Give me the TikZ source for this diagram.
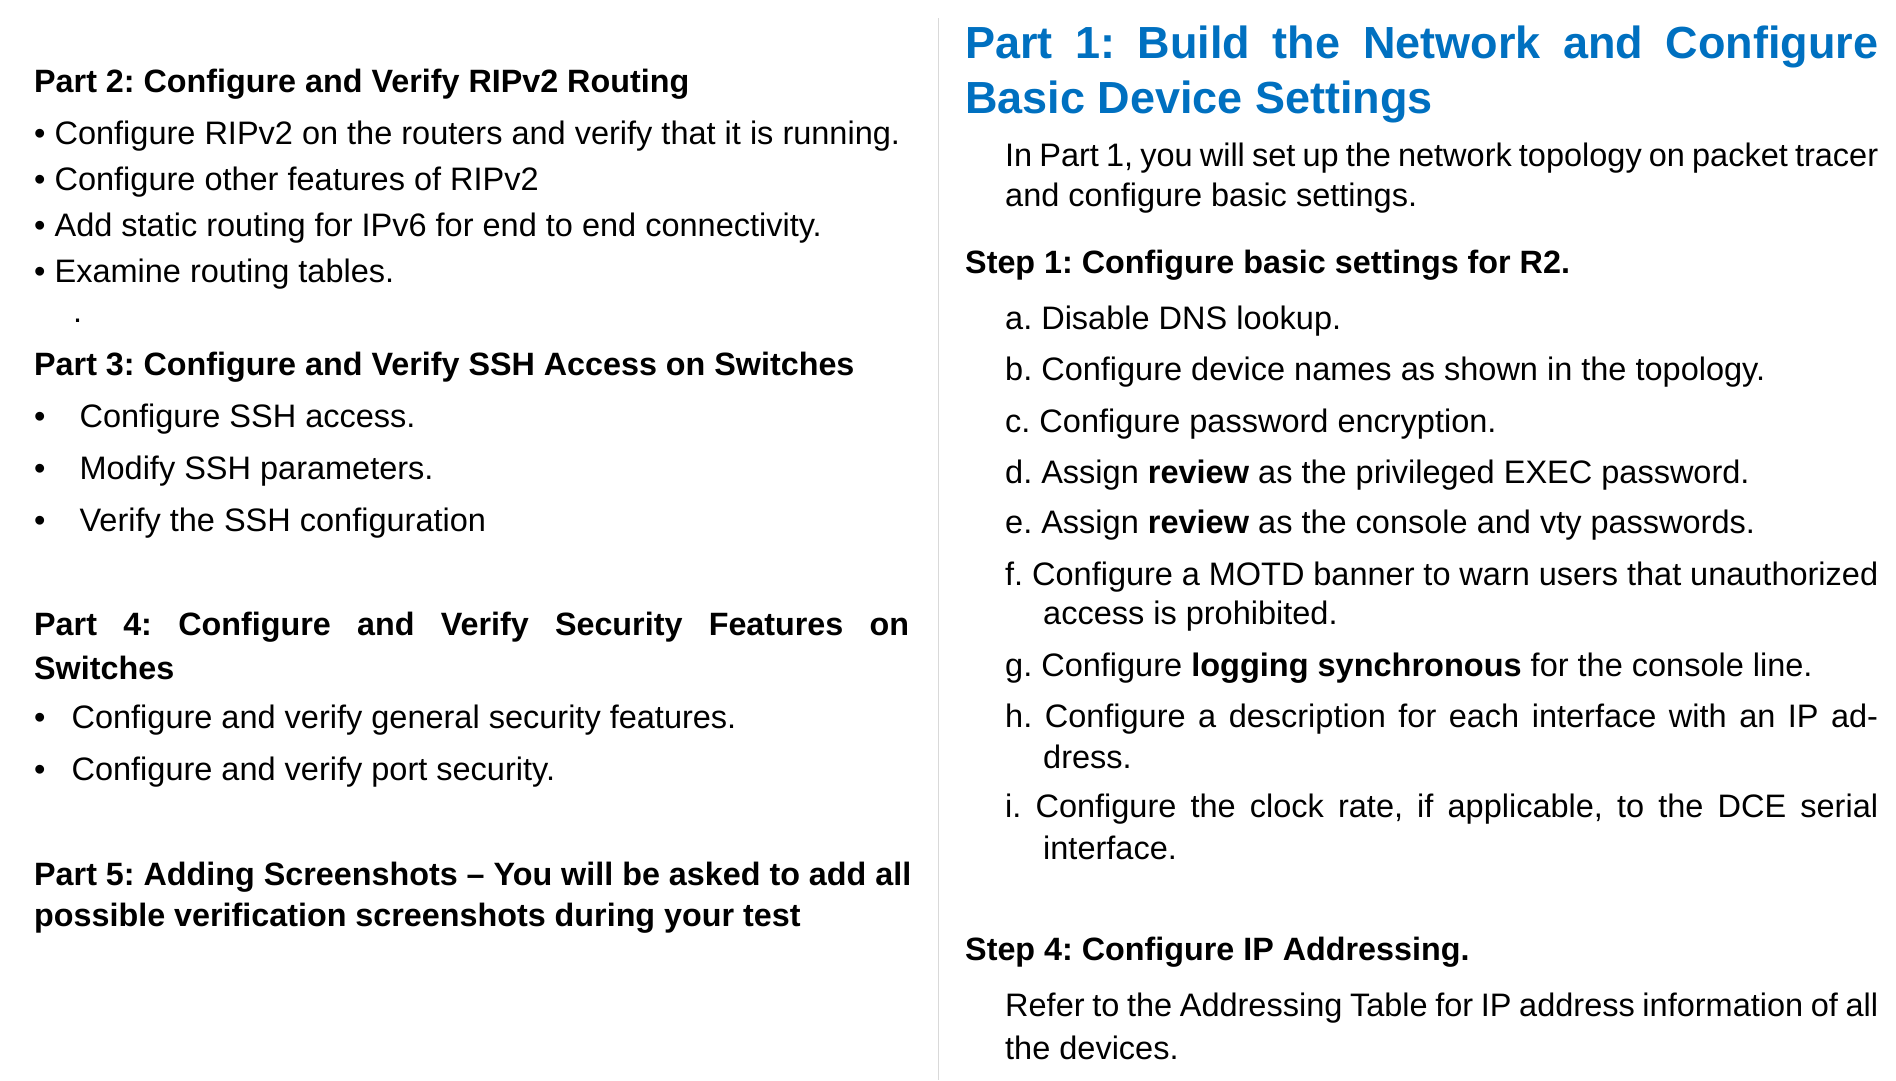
\documentclass[tikz,border=0pt]{standalone}
\usepackage{fontspec}
\setmainfont{Liberation Sans}
\definecolor{titleblue}{RGB}{0,112,192}
\begin{document}
\frenchspacing
\begin{tikzpicture}[x=1pt,y=-1pt,
  t/.style={anchor=west,inner sep=0pt,font=\fontsize{32.5}{39}\selectfont},
  h/.style={anchor=west,inner sep=0pt,font=\fontsize{32.3}{39}\selectfont\bfseries},
  ti/.style={anchor=west,inner sep=0pt,font=\fontsize{45}{54}\selectfont\bfseries,text=titleblue}]
\useasboundingbox (0,-3) rectangle (1896,1077);
\draw[gray!30,line width=1pt] (938,15) -- (938,1077);
% left
\node[h] (p2) at (34,81) {Part 2: Configure and Verify RIPv2 Routing};
\node[t] (b1) at (34,133) {• Configure RIPv2 on the routers and verify that it is running.};
\node[t] (b2) at (34,179) {• Configure other features of RIPv2};
\node[t] (b3) at (34,225) {• Add static routing for IPv6 for end to end connectivity.};
\node[t] (b4) at (34,271) {• Examine routing tables.};
\node[t] (dot) at (73,318) {.};
\node[h] (p3) at (34,364) {Part 3: Configure and Verify SSH Access on Switches};
\node[t] (s1) at (34,416) {•\hspace{34pt}Configure SSH access.};
\node[t] (s2) at (34,468) {•\hspace{34pt}Modify SSH parameters.};
\node[t] (s3) at (34,520) {•\hspace{34pt}Verify the SSH configuration};
\node[h] (p4a) at (34,624) {\hbox to 875pt{Part\hfill 4:\hfill Configure\hfill and\hfill Verify\hfill Security\hfill Features\hfill on}};
\node[h] (p4b) at (34,665) {Switches};
\node[t] (f1) at (34,717) {•\hspace{26pt}Configure and verify general security features.};
\node[t] (f2) at (34,769) {•\hspace{26pt}Configure and verify port security.};
\node[h] (p5a) at (34,874) {Part 5: Adding Screenshots – You will be asked to add all};
\node[h] (p5b) at (34,915) {possible verification screenshots during your test};
% right
\node[ti] (t1) at (965,44) {\hbox to 913pt{Part\hfill 1:\hfill Build\hfill the\hfill Network\hfill and\hfill Configure}};
\node[ti] (t2) at (965,99) {Basic Device Settings};
\node[t] (i1) at (1005,155) {\spaceskip=0.18em plus 1fil\hbox to 873pt{In Part 1, you will set up the network topology on packet tracer}};
\node[t] (i2) at (1005,195) {and configure basic settings.};
\node[h] (st1) at (965,262) {Step 1: Configure basic settings for R2.};
\node[t] (a) at (1005,318) {a. Disable DNS lookup.};
\node[t] (b) at (1005,369) {b. Configure device names as shown in the topology.};
\node[t] (c) at (1005,421) {c. Configure password encryption.};
\node[t] (d) at (1005,472) {d. Assign \textbf{review} as the privileged EXEC password.};
\node[t] (e) at (1005,522) {e. Assign \textbf{review} as the console and vty passwords.};
\node[t] (f) at (1005,574) {\hbox to 873pt{f.\hfill Configure\hfill a\hfill MOTD\hfill banner\hfill to\hfill warn\hfill users\hfill that\hfill unauthorized}};
\node[t] (f2r) at (1043,613) {access is prohibited.};
\node[t] (g) at (1005,665) {g. Configure \textbf{logging synchronous} for the console line.};
\node[t] (hh) at (1005,716) {\hbox to 873pt{h.\hfill Configure\hfill a\hfill description\hfill for\hfill each\hfill interface\hfill with\hfill an\hfill IP\hfill ad-}};
\node[t] (h2) at (1043,754) {dress.};
\node[t] (ii) at (1005,806) {\hbox to 873pt{i.\hfill Configure\hfill the\hfill clock\hfill rate,\hfill if\hfill applicable,\hfill to\hfill the\hfill DCE\hfill serial}};
\node[t] (i2b) at (1043,845) {interface.};
\node[h] (st4) at (965,949) {Step 4: Configure IP Addressing.};
\node[t] (r1) at (1005,1005) {\spaceskip=0.2em plus 1fil\hbox to 873pt{Refer to the Addressing Table for IP address information of all}};
\node[t] (r2) at (1005,1045) {the devices.};
\end{tikzpicture}
\end{document}
